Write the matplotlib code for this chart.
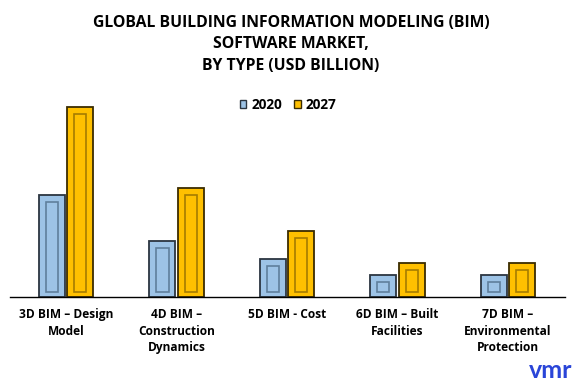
import numpy as np
import matplotlib.pyplot as plt
from matplotlib.patches import Patch

categories = ['3D BIM – Design\nModel', '4D BIM –\nConstruction\nDynamics', '5D BIM - Cost',
              '6D BIM – Built\nFacilities', '7D BIM –\nEnvironmental\nProtection']
v2020 = [5.1, 2.8, 1.9, 1.1, 1.1]
v2027 = [9.5, 5.45, 3.3, 1.7, 1.7]

plt.rcParams['font.family'] = ['Open Sans', 'DejaVu Sans']

fig = plt.figure(figsize=(5.82, 3.84), dpi=100)
ax = fig.add_axes([10 / 582, 87 / 384, 555 / 582, 207 / 384])

x = np.arange(len(categories))
w = 0.235
off = 0.127
dx = 0.063
series = [
    (v2020, -off, '#9DC3E6', '#2b3540', '#5f7f9c'),
    (v2027, off, '#FFC000', '#3a2c00', '#a67c00'),
]
for vals, o, fill, edge, inner in series:
    vals = np.array(vals)
    ax.bar(x + o, vals, w, color=fill, edgecolor=edge, linewidth=1.3, zorder=2)
    ax.bar(x + o, vals - 0.6, w - 2 * dx, bottom=0.25, color=fill,
           edgecolor=inner, linewidth=1.2, zorder=3)

ax.set_xlim(-0.507, 4.516)
ax.set_ylim(0, 10.35)
for s in ['top', 'right', 'left']:
    ax.spines[s].set_visible(False)
ax.spines['bottom'].set_linewidth(1.0)
ax.set_yticks([])
ax.set_xticks(x)
ax.set_xticklabels(categories, fontsize=8.6, fontweight='bold', linespacing=1.36, va='top')
ax.tick_params(axis='x', length=0, pad=8)

fig.text(0.5, 0.962, 'GLOBAL BUILDING INFORMATION MODELING (BIM)\nSOFTWARE MARKET,\nBY TYPE (USD BILLION)',
         ha='center', va='top', fontsize=11.3, fontweight='bold', linespacing=1.48)

handles = [Patch(facecolor='#9DC3E6', edgecolor='#2b3540'), Patch(facecolor='#FFC000', edgecolor='#3a2c00')]
fig.legend(handles, ['2020', '2027'], loc='center', bbox_to_anchor=(0.495, 0.727), ncol=2,
           frameon=False, prop={'weight': 'bold', 'size': 9.8}, handlelength=0.5, handleheight=0.5,
           handletextpad=0.35, columnspacing=0.9)

fig.text(551 / 582, 6 / 384, 'vmr', ha='center', va='baseline', fontsize=18, color='#2a45d8',
         family='Lato', fontweight='bold')

fig.savefig('out.png', dpi=100)
